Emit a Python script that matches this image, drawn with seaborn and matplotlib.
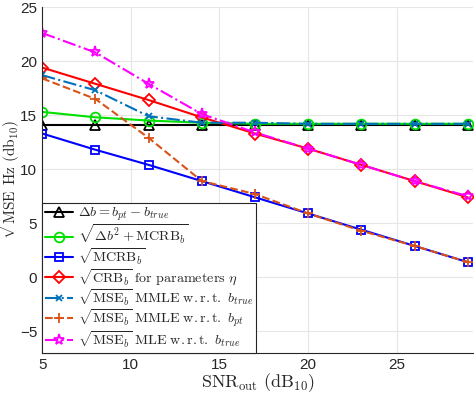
import numpy as np
import pandas as pd
import matplotlib
matplotlib.use("Agg")
import matplotlib.pyplot as plt
import seaborn as sns

# SNR values (dB)
snr = [5, 8, 11, 14, 17, 20, 23, 26, 29]

# series
delta_b = [14.1, 14.1, 14.1, 14.1, 14.1, 14.1, 14.1, 14.1, 14.1]
delta_mcrb = [15.3, 14.8, 14.5, 14.3, 14.2, 14.2, 14.2, 14.2, 14.2]
mcrb = [13.3, 11.8, 10.4, 8.9, 7.4, 5.9, 4.4, 2.9, 1.4]
crb = [19.4, 17.9, 16.4, 14.8, 13.3, 11.9, 10.4, 8.9, 7.4]
mmle_true = [18.7, 17.3, 14.9, 14.3, 14.3, 14.2, 14.2, 14.2, 14.2]
mmle_pt = [18.4, 16.5, 12.9, 8.9, 7.7, 5.9, 4.3, 2.9, 1.4]
mle_true = [22.6, 20.8, 17.9, 15.1, 13.4, 11.9, 10.4, 8.9, 7.5]

labels = [
    r"$\Delta b = b_{pt} - b_{true}$",
    r"$\sqrt{\Delta b^2 + \mathrm{MCRB}_b}$",
    r"$\sqrt{\mathrm{MCRB}_b}$",
    r"$\sqrt{\mathrm{CRB}_b}\ \mathrm{for\ parameters}\ \eta$",
    r"$\sqrt{\mathrm{MSE}_b}\ \mathrm{MMLE\ w.r.t.}\ b_{true}$",
    r"$\sqrt{\mathrm{MSE}_b}\ \mathrm{MMLE\ w.r.t.}\ b_{pt}$",
    r"$\sqrt{\mathrm{MSE}_b}\ \mathrm{MLE\ w.r.t.}\ b_{true}$",
]

sns.set_style("whitegrid")
plt.rcParams["mathtext.fontset"] = "cm"
plt.rcParams["font.family"] = ["Liberation Sans", "DejaVu Sans"]

fig = plt.figure(figsize=(4.74, 3.93), dpi=100)
ax = fig.add_axes([0.089, 0.102, 0.909, 0.880])

series = [
    (delta_b, "black", "-", "^", 7),
    (delta_mcrb, "#00e000", "-", "o", 7),
    (mcrb, "#0000ff", "-", "s", 5.5),
    (crb, "#ff0000", "-", "D", 6),
    (mmle_true, "#0072BD", "-.", "x", 5),
    (mmle_pt, "#D95319", "--", "+", 7),
    (mle_true, "#ff00ff", "-.", "*", 8),
]

for (vals, col, ls, mk, ms), lab in zip(series, labels):
    sns.lineplot(x=snr, y=vals, ax=ax, color=col, linestyle=ls, marker=mk,
                 markersize=ms, markerfacecolor="none", markeredgecolor=col,
                 markeredgewidth=1.3, linewidth=1.5, label=lab)

ax.set_xlim(5, 29.3)
ax.set_ylim(-7, 25)
ax.set_xticks([5, 10, 15, 20, 25])
ax.set_yticks([-5, 0, 5, 10, 15, 20, 25])
ax.tick_params(labelsize=11, direction="in", length=3, colors="#262626")
ax.grid(True, color="#e6e6e6", linewidth=0.8)
for s in ["left", "bottom"]:
    ax.spines[s].set_color("#262626")
    ax.spines[s].set_linewidth(0.8)
for s in ["top", "right"]:
    ax.spines[s].set_visible(False)

ax.set_xlabel(r"$\mathrm{SNR}_{\mathrm{out}}\ (\mathrm{dB}_{10})$", fontsize=13, labelpad=0)
ax.set_ylabel(r"$\sqrt{\mathrm{MSE}}\ \mathrm{Hz}\ (\mathrm{db}_{10})$", fontsize=11)
ax.yaxis.set_label_coords(-0.047, 0.5)

leg = ax.legend(loc="lower left", fontsize=10.2, frameon=True, fancybox=False,
                framealpha=1, edgecolor="#262626", borderaxespad=0,
                handlelength=2.0, handletextpad=0.3, labelspacing=0.0,
                borderpad=0.2)
leg.get_frame().set_linewidth(0.8)

fig.savefig("out.png", dpi=100)
